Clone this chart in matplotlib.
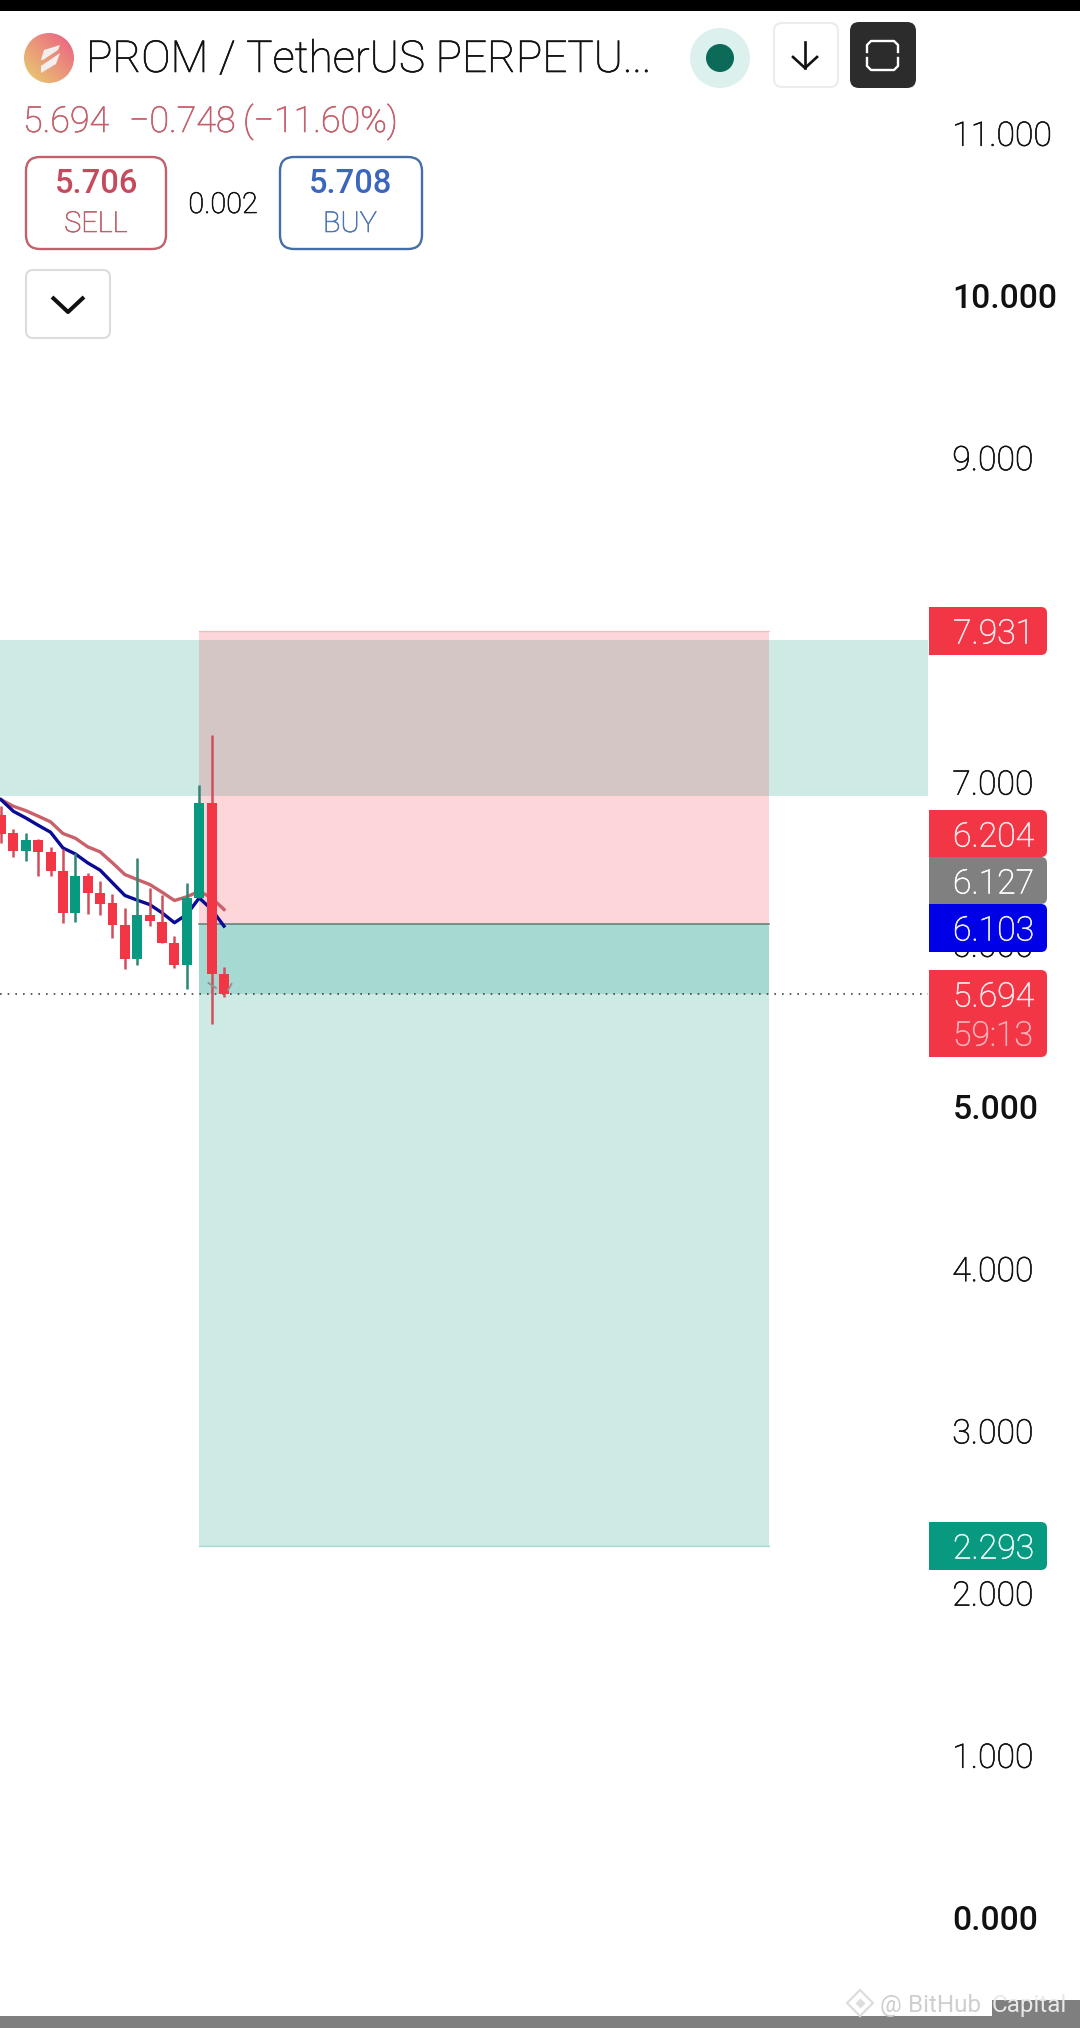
#!/usr/bin/env python

import numpy as np
import matplotlib
matplotlib.use("Agg")
import matplotlib.pyplot as plt
import matplotlib.patheffects as pe
from matplotlib.patches import FancyBboxPatch, Rectangle, Circle, Polygon

plt.rcParams["font.family"] = ["Roboto", "DejaVu Sans"]

# candles, oldest first
opens = [6.800, 6.687, 6.574, 6.640, 6.570, 6.453, 6.192, 6.424, 6.317, 6.256,
         6.120, 5.907, 6.178, 6.139, 6.005, 5.872, 6.286, 6.872, 5.818]
closes = [6.683, 6.576, 6.640, 6.568, 6.451, 6.192, 6.424, 6.317, 6.247, 6.120,
          5.907, 6.178, 6.143, 6.009, 5.872, 6.286, 6.872, 5.818, 5.691]
highs = [6.851, 6.711, 6.687, 6.650, 6.601, 6.588, 6.560, 6.440, 6.393, 6.313,
         6.225, 6.533, 6.348, 6.301, 6.054, 6.379, 6.985, 7.292, 5.862]
lows = [6.625, 6.539, 6.512, 6.420, 6.420, 6.130, 6.137, 6.186, 6.180, 6.038,
        5.849, 5.872, 6.112, 6.009, 5.853, 5.722, 6.286, 5.506, 5.677]

# moving averages
ma_blue = [6.892, 6.820, 6.779, 6.734, 6.691, 6.594, 6.557, 6.502, 6.457, 6.379,
           6.301, 6.272, 6.245, 6.194, 6.133, 6.184, 6.286, 6.215, 6.112]
ma_pink = [6.892, 6.851, 6.824, 6.790, 6.755, 6.683, 6.654, 6.601, 6.570, 6.502,
           6.430, 6.399, 6.369, 6.321, 6.270, 6.293, 6.327, 6.286, 6.215]

# zones and position tool
band_low, band_high = 6.914, 7.876
stop_price, entry_price, target_price, last_price = 7.931, 6.127, 2.293, 5.694
pos_start, pos_end = 16, 62

ticks = [0, 1, 2, 3, 4, 5, 6, 7, 8, 9, 10, 11]
tick_labels = ["0.000", "1.000", "2.000", "3.000", "4.000", "5.000",
               "6.000", "7.000", "8.000", "9.000", "10.000", "11.000"]
bold_ticks = ["0.000", "5.000", "10.000"]
hidden_ticks = ["8.000"]

RED = "#f23645"
GREEN = "#089981"


# Roboto Light comes out a bit too thin next to the screenshot
def thicken(t, col, w=0.45):
    t.set_path_effects([pe.withStroke(linewidth=w, foreground=col)])
    return t


fig = plt.figure(figsize=(10.8, 20.28), dpi=100, facecolor="white")
ax = fig.add_axes([0, 0, 928 / 1080, 1])
ax.set_xlim(-0.08, 74.82)
ax.set_ylim(-0.6813, 11.8218)
for s in ax.spines.values():
    s.set_visible(False)
ax.get_xaxis().set_visible(False)

# price scale
ax.yaxis.tick_right()
ax.set_yticks(ticks)
ax.set_yticklabels(tick_labels)
ax.tick_params(axis="y", length=0, pad=17.5, labelsize=24.3)
for lab in ax.get_yticklabels():
    t = lab.get_text()
    lab.set_color("#111111")
    if t in bold_ticks:
        lab.set_fontweight("medium")
    else:
        lab.set_fontweight("light")
        thicken(lab, "#111111")
    if t in hidden_ticks:
        lab.set_visible(False)

# zones
ax.axhspan(band_low, band_high, color=GREEN, alpha=0.2, lw=0, zorder=1)
ax.fill_between([pos_start, pos_end], entry_price, stop_price, color=RED, alpha=0.2, lw=0, zorder=1)
ax.fill_between([pos_start, pos_end], target_price, entry_price, color=GREEN, alpha=0.2, lw=0, zorder=1)
ax.fill_between([pos_start, pos_end], last_price, entry_price, color=GREEN, alpha=0.2, lw=0, zorder=1)
ax.plot([pos_start, pos_end], [entry_price, entry_price], color="#5f7b76", lw=1.1, zorder=2)
ax.plot([pos_start, pos_end], [stop_price, stop_price], color=RED, alpha=0.2, lw=1, zorder=2)
ax.plot([pos_start, pos_end], [target_price, target_price], color=GREEN, alpha=0.35, lw=1, zorder=2)
ax.axhline(last_price, color="#444444", lw=1.2, ls=(0, (1, 3.6)), zorder=2)

# moving averages go under the candles
idx = np.arange(len(opens))
ax.plot(idx, ma_pink, color="#c9606a", lw=2.4, zorder=3)
ax.plot(idx, ma_blue, color="#0a0a96", lw=2.4, zorder=3)

for i in idx:
    up = closes[i] >= opens[i]
    ax.vlines(i, lows[i], highs[i], color="#2f8474" if up else "#cf4f5c", lw=1.8, zorder=4)
    ax.bar(i, abs(closes[i] - opens[i]), bottom=min(opens[i], closes[i]), width=0.8,
           color=GREEN if up else RED, lw=0, zorder=5)

# everything drawn in screen pixels from here on
ui = fig.add_axes([0, 0, 1, 1])
ui.set_xlim(0, 1080)
ui.set_ylim(2028, 0)
ui.axis("off")


def box(x0, y0, x1, y1, r, fc="white", ec="none", lw=1.5, z=2):
    ui.add_patch(FancyBboxPatch((x0 + r, y0 + r), x1 - x0 - 2 * r, y1 - y0 - 2 * r,
                                boxstyle="round,pad=%f,rounding_size=%f" % (r, r),
                                fc=fc, ec=ec, lw=lw, zorder=z))


def label(x, y, s, size, col, weight="light", ha="left"):
    t = ui.text(x, y, s, fontsize=size, fontweight=weight, color=col, ha=ha, va="baseline", zorder=5)
    if weight == "light":
        thicken(t, col)
    return t


# little marks beside the last candle
ui.plot([208.5, 216], [983, 988], color="#9a8a8a", lw=1.3, zorder=1)
ui.plot([228, 231.5], [990, 984], color="#9a8a8a", lw=1.3, zorder=1)

# status bar and bottom strip
ui.add_patch(Rectangle((0, 0), 1080, 11, fc="black", ec="none"))
ui.add_patch(Rectangle((0, 2016), 1080, 12, fc="#7f7f7f", ec="none"))
ui.add_patch(Rectangle((992, 2000), 88, 16, fc="#7f7f7f", ec="none"))

# logo
grad = np.linspace(0, 1, 50)
gx, gy = np.meshgrid(grad, grad)
mix = np.clip((gx + (1 - gy)) / 2, 0, 1)
c0, c1 = np.array([232, 208, 112]) / 255, np.array([236, 92, 132]) / 255
img = c0[None, None, :] * (1 - mix[..., None]) + c1[None, None, :] * mix[..., None]
logo = ui.imshow(img, extent=(24, 74, 83, 33), zorder=2, aspect="auto")
logo.set_clip_path(Circle((49, 58), 25, transform=ui.transData))
ui.set_xlim(0, 1080)
ui.set_ylim(2028, 0)
ui.add_patch(Polygon([[41, 60], [44, 50], [60, 45], [58, 50], [43, 60]], fc="#f4efec", ec="none", zorder=3))
ui.add_patch(Polygon([[41, 66], [60, 53], [56, 64], [41, 73]], fc="#f4efec", ec="none", zorder=3))

label(86, 72, "PROM / TetherUS PERPETU...", 31.7, "#111111")
label(23, 132, "5.694", 25.8, "#c4606c")
label(129, 132, "\u22120.748", 25.8, "#c4606c")
label(243, 132, "(\u221211.60%)", 25.8, "#c4606c")

# sell and buy
box(26, 157, 166, 249, 14, ec="#c4606c", lw=1.7)
box(280, 157, 422, 249, 14, ec="#446ea8", lw=1.7)
label(97, 193, "5.706", 23.5, "#c74a5c", weight="medium", ha="center")
label(96, 232, "SELL", 20.8, "#bb5f6c", ha="center")
label(351, 193, "5.708", 23.5, "#3b66bd", weight="medium", ha="center")
label(350, 232, "BUY", 20.8, "#4f76b2", ha="center")
label(223, 213, "0.002", 20.8, "#111111", ha="center")

box(26, 270, 110, 338, 7, ec="#dddddd")
ui.plot([52, 68, 84], [297, 312, 297], color="#111111", lw=2.9, solid_capstyle="butt")

# top right buttons
ui.add_patch(Circle((720, 58), 30, fc="#dcf0ee", ec="none"))
ui.add_patch(Circle((720, 58), 14, fc="#0b6b58", ec="none"))
box(774, 23, 838, 87, 8, ec="#ececec")
ui.plot([805, 805], [42, 68], color="#111111", lw=1.9)
ui.plot([793, 805, 817], [57, 68, 57], color="#111111", lw=1.9)
box(850, 22, 916, 88, 9, fc="#2c2c2c")
ui.plot([867, 867, 871, 894, 898, 898], [52, 45, 41, 41, 45, 52], color="white", lw=1.7)
ui.plot([867, 867, 871, 894, 898, 898], [58, 66, 70, 70, 66, 58], color="white", lw=1.7)


def tag(y0, y1, fc, lines):
    box(929, y0, 1047, y1, 6, fc=fc, z=4)
    ui.add_patch(Rectangle((929, y0), 20, y1 - y0, fc=fc, ec="none", zorder=4))
    for txt, y, col in lines:
        t = ui.text(953, y, txt, fontsize=24.3, fontweight="light", color=col, va="center_baseline", zorder=5)
        thicken(t, col)


tag(607, 655, RED, [("7.931", 631, "#ffe6e8")])
tag(810, 857, RED, [("6.204", 834, "#ffe6e8")])
tag(857, 904, "#808080", [("6.127", 881, "white")])
tag(904, 952, "#0000e6", [("6.103", 928, "#eeeeff")])
tag(970, 1057, RED, [("5.694", 994, "#ffe6e8"), ("59:13", 1033, "#fbb0b8")])
tag(1522, 1570, GREEN, [("2.293", 1546, "#e8f8f4")])

# watermark
ui.plot([860], [2003], marker="D", ms=13, mfc="none", mec="#dddddd", mew=1.6)
ui.plot([860], [2003], marker="D", ms=5, mfc="#dddddd", mec="none")
ui.text(880, 2012, "@", fontsize=17.5, color="#cfcfcf", va="baseline")
ui.text(908, 2012, "BitHub", fontsize=17.5, color="#cfcfcf", va="baseline")
ui.text(992, 2012, "Capital", fontsize=17.5, color="#e8e8e8", va="baseline", zorder=3)

fig.savefig("out.png", dpi=100)
